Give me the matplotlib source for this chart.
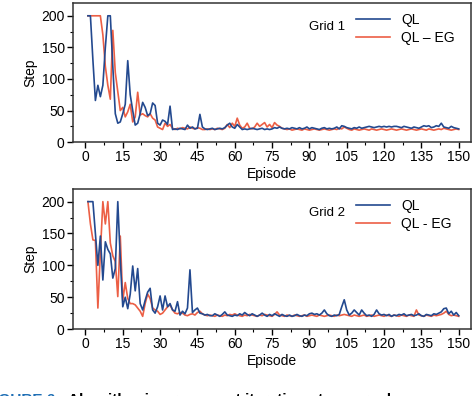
import matplotlib
matplotlib.use("Agg")
from matplotlib import pyplot as plt
from matplotlib.ticker import MultipleLocator

import numpy as np

# episodes 1..150
episodes = np.arange(1, 151)

# Grid 1 steps per episode
grid1_ql = [
    200, 200, 130, 66, 90, 72, 90, 150, 200, 200,
    120, 45, 30, 32, 45, 60, 129, 75, 50, 27,
    30, 45, 63, 55, 42, 45, 62, 58, 30, 27,
    35, 33, 28, 57, 20, 21, 20, 22, 21, 20,
    27, 22, 24, 21, 22, 44, 24, 21, 20, 21,
    22, 20, 21, 22, 21, 23, 27, 30, 24, 22,
    28, 24, 20, 21, 20, 21, 22, 21, 20, 21,
    22, 20, 21, 20, 21, 23, 22, 24, 22, 21,
    22, 21, 23, 22, 21, 23, 21, 22, 24, 21,
    23, 22, 21, 20, 22, 23, 21, 22, 21, 22,
    24, 21, 26, 25, 23, 22, 21, 23, 22, 24,
    22, 23, 24, 25, 24, 23, 24, 25, 24, 25,
    24, 25, 24, 25, 25, 24, 23, 25, 24, 23,
    22, 24, 23, 22, 24, 26, 25, 26, 23, 24,
    26, 25, 30, 24, 23, 22, 25, 23, 22, 21,
]
grid1_qleg = [
    200, 200, 200, 200, 200, 200, 170, 120, 90, 68,
    177, 110, 80, 50, 55, 40, 48, 60, 32, 40,
    79, 43, 45, 42, 40, 45, 38, 35, 24, 22,
    20, 30, 25, 28, 22, 20, 22, 21, 23, 22,
    21, 24, 22, 21, 23, 22, 20, 20, 21, 20,
    21, 20, 22, 21, 20, 22, 28, 23, 30, 25,
    38, 27, 22, 24, 30, 22, 21, 24, 30, 25,
    28, 31, 24, 28, 23, 31, 27, 25, 22, 21,
    20, 21, 19, 20, 21, 20, 19, 21, 20, 19,
    20, 21, 20, 19, 20, 21, 20, 19, 20, 21,
    20, 22, 21, 24, 22, 20, 19, 21, 20, 19,
    20, 21, 20, 19, 21, 20, 19, 20, 21, 20,
    19, 20, 21, 20, 19, 20, 21, 20, 19, 20,
    21, 20, 19, 20, 21, 20, 19, 21, 20, 19,
    20, 21, 20, 22, 21, 20, 19, 20, 21, 20,
]

# Grid 2 steps per episode
grid2_ql = [
    200, 200, 200, 150, 100, 146, 77, 137, 125, 118,
    80, 95, 200, 110, 35, 50, 32, 55, 99, 60,
    95, 40, 30, 45, 58, 64, 30, 25, 35, 52,
    30, 52, 35, 40, 30, 28, 43, 22, 28, 24,
    33, 93, 26, 30, 33, 25, 24, 22, 23, 21,
    21, 24, 22, 20, 23, 27, 22, 21, 20, 22,
    21, 24, 22, 26, 23, 21, 24, 22, 20, 22,
    25, 22, 20, 23, 21, 24, 22, 20, 23, 21,
    20, 22, 20, 21, 23, 21, 20, 22, 21, 24,
    25, 23, 24, 22, 25, 30, 24, 21, 20, 22,
    21, 23, 35, 46, 30, 22, 25, 30, 26, 22,
    30, 25, 21, 22, 20, 23, 30, 24, 22, 23,
    21, 23, 20, 22, 21, 23, 22, 24, 21, 22,
    23, 21, 22, 24, 21, 20, 23, 22, 21, 24,
    23, 25, 27, 32, 33, 24, 28, 22, 26, 21,
]
grid2_qleg = [
    200, 165, 140, 139, 33, 120, 200, 165, 200, 135,
    115, 106, 51, 146, 45, 73, 48, 40, 40, 38,
    33, 28, 20, 40, 55, 48, 33, 30, 28, 23,
    25, 30, 35, 38, 30, 25, 24, 26, 25, 22,
    21, 23, 24, 22, 26, 28, 24, 22, 21, 22,
    21, 20, 22, 21, 20, 22, 21, 23, 22, 24,
    22, 21, 20, 22, 21, 23, 22, 21, 20, 22,
    21, 23, 22, 21, 20, 23, 27, 22, 21, 20,
    22, 21, 20, 22, 21, 20, 21, 22, 20, 21,
    22, 21, 20, 22, 21, 20, 21, 22, 21, 20,
    22, 21, 22, 23, 22, 21, 20, 22, 21, 20,
    21, 22, 20, 21, 22, 20, 21, 22, 21, 20,
    22, 21, 20, 22, 21, 20, 22, 21, 20, 22,
    21, 20, 30, 22, 21, 20, 22, 21, 20, 22,
    21, 22, 23, 25, 28, 23, 21, 22, 21, 20,
]

grid_names = ["Grid 1", "Grid 2"]
legend_labels = [["QL", "QL \u2013 EG"], ["QL", "QL - EG"]]
x_ticks = np.arange(0, 151, 15)
y_ticks = np.arange(0, 201, 50)

blue = "#23498f"
red = "#ec5f45"

plt.rcParams["font.family"] = ["Liberation Sans", "DejaVu Sans"]
plt.rcParams["font.size"] = 10

fig = plt.figure(figsize=(4.74, 3.96), dpi=100)
ax1 = fig.add_axes([0.154, 0.641, 0.840, 0.351])
ax2 = fig.add_axes([0.154, 0.169, 0.840, 0.354])

for ax, ql, qleg, name, labels in [
    (ax1, grid1_ql, grid1_qleg, grid_names[0], legend_labels[0]),
    (ax2, grid2_ql, grid2_qleg, grid_names[1], legend_labels[1]),
]:
    ax.plot(episodes, ql, color=blue, lw=1.2, label=labels[0], zorder=3)
    ax.plot(episodes, qleg, color=red, lw=1.2, label=labels[1], zorder=2)

    ax.set_xlim(-5, 155)
    ax.set_ylim(0, 220)
    ax.set_xticks(x_ticks)
    ax.set_yticks(y_ticks)
    ax.xaxis.set_minor_locator(MultipleLocator(7.5))
    ax.yaxis.set_minor_locator(MultipleLocator(25))
    ax.tick_params(which="major", direction="out", length=4, width=1, labelsize=10, pad=2)
    ax.tick_params(which="minor", direction="out", length=2, width=0.8)
    for sp in ax.spines.values():
        sp.set_linewidth(1.1)
        sp.set_color("#333333")

    ax.set_xlabel("Episode", fontsize=10, labelpad=2)
    ax.set_ylabel("Step", fontsize=10, labelpad=3)

    ax.text(0.638, 0.827, name, transform=ax.transAxes, ha="center", va="center", fontsize=9.5)
    ax.legend(loc="upper left", bbox_to_anchor=(0.712, 0.93), frameon=False,
              borderaxespad=0, borderpad=0, handlelength=2.4, handletextpad=0.8,
              labelspacing=0.3, fontsize=10)

# cut-off caption at the bottom edge
fig.text(55 / 474, 0.008, "FIGURE 6", color="#1f6fb5", fontsize=11, fontweight="bold",
         ha="right", va="top")
fig.text(68 / 474, 0.008, "Algorithm improvement iteration steps graph:", color="black",
         fontsize=11, fontweight="bold", ha="left", va="top")

fig.savefig("out.png", dpi=100)
plt.close(fig)
